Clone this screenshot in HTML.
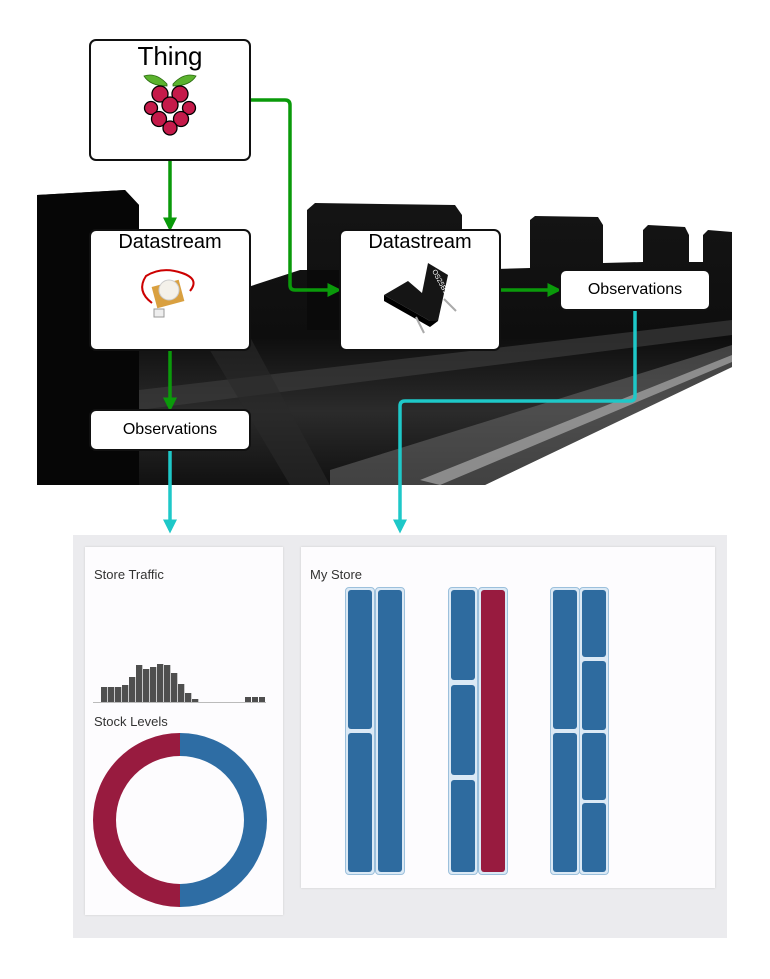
<!DOCTYPE html>
<html><head><style>
body{margin:0;width:770px;height:979px;background:#fff;position:relative;overflow:hidden;font-family:"Liberation Sans",sans-serif}
.abs{position:absolute}
.node{position:absolute;background:#fff;border:2px solid #111;border-radius:7px;box-sizing:border-box;text-align:center;color:#000}
.seg{position:absolute;background:#2e6b9f;border-radius:3px}
.col{position:absolute;border:1px solid #9cc0dc;background:#dbe9f5;border-radius:4px;box-sizing:border-box}
</style></head><body>
<!-- photo -->
<svg class="abs" style="left:0;top:0" width="770" height="979">
<defs>
<linearGradient id="tr" x1="0" y1="0" x2="0" y2="1">
<stop offset="0" stop-color="#151515"/><stop offset="0.5" stop-color="#0e0e0e"/><stop offset="0.75" stop-color="#2b2b2b"/><stop offset="1" stop-color="#111"/>
</linearGradient>
</defs>
<polygon fill="url(#tr)" points="37,195 125,190 139,205 139,295 248,287 300,270 307,270 307,210 315,203 455,205 462,215 462,270 530,268 530,220 535,216 598,217 603,225 603,263 643,262 643,230 648,225 685,227 689,235 689,262 703,262 703,235 708,230 732,232 732,367 485,485 37,485"/>
<polygon points="37,195 125,190 139,205 139,485 37,485" fill="#060606"/>
<polygon points="307,270 462,270 462,330 307,330" fill="#0a0a0a"/>
<polygon points="139,390 732,320 732,335 139,410" fill="#3a3a3a" opacity="0.7"/>
<polygon points="330,470 732,345 732,367 485,485 330,485" fill="#6a6a6a" opacity="0.55"/>
<polygon points="420,480 732,355 732,362 440,485" fill="#bdbdbd" opacity="0.6"/>
<polygon points="180,300 230,300 330,485 290,485" fill="#2a2a2a" opacity="0.6"/>
</svg>
<!-- dashboard -->
<div class="abs" style="left:73px;top:535px;width:654px;height:403px;background:#ebebee"></div>
<div class="abs" style="left:85px;top:547px;width:198px;height:368px;background:#fdfcfe;box-shadow:0 0 2px #ccc"></div>
<div class="abs" style="left:301px;top:547px;width:414px;height:341px;background:#fdfcfe;box-shadow:0 0 2px #ccc"></div>
<div class="abs" style="left:94px;top:567px;font-size:13px;color:#333">Store Traffic</div>
<div class="abs" style="left:94px;top:714px;font-size:13px;color:#333">Stock Levels</div>
<div class="abs" style="left:310px;top:567px;font-size:13px;color:#333">My Store</div>
<svg class="abs" style="left:0;top:0" width="770" height="979">
<line x1="93" y1="702.5" x2="266" y2="702.5" stroke="#bbb"/>
<g fill="#4f4f4f">
<rect x="101" y="687" width="6.3" height="15"/><rect x="108" y="687" width="6.3" height="15"/><rect x="115" y="687" width="6.3" height="15"/><rect x="122" y="685" width="6.3" height="17"/><rect x="129" y="677" width="6.3" height="25"/><rect x="136" y="665" width="6.3" height="37"/><rect x="143" y="669" width="6.3" height="33"/><rect x="150" y="667" width="6.3" height="35"/><rect x="157" y="664" width="6.3" height="38"/><rect x="164" y="665" width="6.3" height="37"/><rect x="171" y="673" width="6.3" height="29"/><rect x="178" y="684" width="6.3" height="18"/><rect x="185" y="693" width="6.3" height="9"/><rect x="192" y="699" width="6.3" height="3"/>
<rect x="245" y="697" width="6" height="5"/><rect x="252" y="697" width="6" height="5"/><rect x="259" y="697" width="6" height="5"/>
</g>
<path d="M180 733 A87 87 0 0 1 180 907 L180 884 A64 64 0 0 0 180 756 Z" fill="#2e6da4"/>
<path d="M180 733 A87 87 0 0 0 180 907 L180 884 A64 64 0 0 1 180 756 Z" fill="#981b3f"/>
</svg>
<!-- shelves -->
<div class="col" style="left:345px;top:587px;width:30px;height:288px"></div>
<div class="col" style="left:375px;top:587px;width:30px;height:288px"></div>
<div class="seg" style="left:348px;top:590px;width:24px;height:139px"></div>
<div class="seg" style="left:348px;top:733px;width:24px;height:139px"></div>
<div class="seg" style="left:378px;top:590px;width:24px;height:282px"></div>
<div class="col" style="left:448px;top:587px;width:30px;height:288px"></div>
<div class="col" style="left:478px;top:587px;width:30px;height:288px"></div>
<div class="seg" style="left:451px;top:590px;width:24px;height:90px"></div>
<div class="seg" style="left:451px;top:685px;width:24px;height:90px"></div>
<div class="seg" style="left:451px;top:780px;width:24px;height:92px"></div>
<div class="seg" style="left:481px;top:590px;width:24px;height:282px;background:#981b3f"></div>
<div class="col" style="left:550px;top:587px;width:30px;height:288px"></div>
<div class="col" style="left:579px;top:587px;width:30px;height:288px"></div>
<div class="seg" style="left:553px;top:590px;width:24px;height:139px"></div>
<div class="seg" style="left:553px;top:733px;width:24px;height:139px"></div>
<div class="seg" style="left:582px;top:590px;width:24px;height:67px"></div>
<div class="seg" style="left:582px;top:661px;width:24px;height:69px"></div>
<div class="seg" style="left:582px;top:733px;width:24px;height:67px"></div>
<div class="seg" style="left:582px;top:803px;width:24px;height:69px"></div>
<!-- connectors -->
<svg class="abs" style="left:0;top:0" width="770" height="979">
<defs>
<marker id="g" markerWidth="4" markerHeight="4" refX="3" refY="2" orient="auto"><path d="M0 0L4 2L0 4Z" fill="#0a9a0a"/></marker>
<marker id="c" markerWidth="4" markerHeight="4" refX="3" refY="2" orient="auto"><path d="M0 0L4 2L0 4Z" fill="#1ec8c8"/></marker>
</defs>
<g stroke="#0a9a0a" stroke-width="3.5" fill="none">
<path d="M170 160 V228" marker-end="url(#g)"/>
<path d="M250 100 H285 Q290 100 290 105 V285 Q290 290 295 290 H338" marker-end="url(#g)"/>
<path d="M500 290 H558" marker-end="url(#g)"/>
<path d="M170 350 V408" marker-end="url(#g)"/>
</g>
<g stroke="#1ec8c8" stroke-width="3.5" fill="none">
<path d="M170 450 V530" marker-end="url(#c)"/>
<path d="M635 310 V396 Q635 401 630 401 H405 Q400 401 400 406 V530" marker-end="url(#c)"/>
</g>
</svg>
<!-- nodes -->
<div class="node" style="left:89px;top:39px;width:162px;height:122px;font-size:26px">Thing
<svg width="60" height="64" viewBox="0 0 60 64" style="display:block;margin:0 auto">
<path d="M27 12 Q16 0 4 4 Q10 14 27 14Z M33 12 Q44 0 56 4 Q50 14 33 14Z" fill="#5bb22e" stroke="#2a6a10" stroke-width="0.8"/>
<g fill="#c51a4a" stroke="#000" stroke-width="1.3">
<circle cx="20" cy="22" r="8"/><circle cx="40" cy="22" r="8"/>
<circle cx="11" cy="36" r="6.5"/><circle cx="49" cy="36" r="6.5"/><circle cx="30" cy="33" r="8"/>
<circle cx="19" cy="47" r="7.5"/><circle cx="41" cy="47" r="7.5"/><circle cx="30" cy="56" r="7"/>
</g></svg></div>
<div class="node" style="left:89px;top:229px;width:162px;height:122px;font-size:20px;line-height:22px">Datastream
<svg width="80" height="60" viewBox="0 0 80 60" style="display:block;margin:8px auto 0">
<path d="M22 42 Q6 30 16 15 Q32 5 52 12 Q70 18 60 30" stroke="#c00" stroke-width="2" fill="none"/>
<rect x="24" y="22" width="28" height="22" fill="#d9a040" transform="rotate(-15 38 33)"/>
<circle cx="39" cy="29" r="10" fill="#f4f1ea" stroke="#ccc"/>
<rect x="24" y="48" width="10" height="8" fill="#eee" stroke="#999"/>
</svg></div>
<div class="node" style="left:339px;top:229px;width:162px;height:122px;font-size:20px;line-height:22px">Datastream
<svg width="100" height="84" viewBox="0 0 100 84" style="display:block;margin:0 auto">
<path d="M14 42 L38 28 L52 40 L58 10 L78 22 L68 68 L60 68 Z" fill="#151515"/>
<path d="M14 42 L14 48 L60 74 L60 68 Z" fill="#000"/>
<path d="M68 68 L60 74 L60 68 Z" fill="#000"/>
<line x1="74" y1="46" x2="86" y2="58" stroke="#aaa" stroke-width="2"/>
<line x1="46" y1="64" x2="54" y2="80" stroke="#aaa" stroke-width="2"/>
<text x="62" y="18" font-size="7" fill="#fff" transform="rotate(62 62 18)" font-family="Liberation Sans">OS25B10</text>
</svg></div>
<div class="node" style="left:559px;top:269px;width:152px;height:42px;font-size:16px;line-height:37px">Observations</div>
<div class="node" style="left:89px;top:409px;width:162px;height:42px;font-size:16px;line-height:37px">Observations</div>
</body></html>
